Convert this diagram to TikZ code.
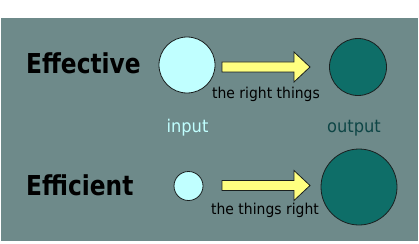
\documentclass[tikz,border=0pt]{standalone}
\usepackage{fontspec}
\setmainfont{DejaVu Sans}[FakeStretch=0.93]
\newfontfamily\headfont{DejaVu Sans}[FakeStretch=0.85]
\usepackage{tikz}
\usetikzlibrary{calc}
\usetikzlibrary{positioning}
\definecolor{sl-back}{HTML}{6E8A8A}
\definecolor{sl-teal}{HTML}{0E6E68}
\definecolor{sl-pale}{HTML}{C0FFFF}
\definecolor{sl-yellow}{HTML}{FFFF80}
\definecolor{sl-dark}{HTML}{0E4646}
\definecolor{sl-line}{HTML}{1A2020}

\begin{document}
\begin{tikzpicture}[x=1pt, y=-1pt,
        incircle/.style={circle, draw=sl-line, line width=0.8pt, fill=sl-pale, inner sep=0pt},
        outcircle/.style={circle, draw=sl-line, line width=0.8pt, fill=sl-teal, inner sep=0pt},
        blockarrow/.style={draw=sl-line, line width=0.8pt, fill=sl-yellow, line join=miter},
        headword/.style={anchor=base west, inner sep=0pt, font=\headfont\bfseries\fontsize{27.4pt}{30pt}\selectfont},
        caption/.style={anchor=base, inner sep=0pt, font=\fontsize{15pt}{17pt}\selectfont}]
        \useasboundingbox (0,0) rectangle (419,243);
        \fill[sl-back] (1,18) rectangle (418,241);
        \node[headword] (effective) at (26,74) {Effective};
        \node[headword] (efficient) at (26,195) {Efficient};
        \node[incircle, minimum size=56pt] (effIn) at (187,65) {};
        \node[outcircle, minimum size=57pt] (effOut) at (358,67) {};
        \node[incircle, minimum size=29pt] (effcIn) at (188.5,186) {};
        \node[outcircle, minimum size=76pt] (effcOut) at (359,187) {};
        \coordinate (effArrow) at (222,67);
        \draw[blockarrow] (effArrow) ++(0,-5) -- ++(72,0) -- ++(0,-10) -- ++(16,15) -- ++(-16,15) -- ++(0,-10) -- ++(-72,0) -- cycle;
        \coordinate (effcArrow) at (222,185.5);
        \draw[blockarrow] (effcArrow) ++(0,-5) -- ++(72,0) -- ++(0,-10) -- ++(16,15) -- ++(-16,15) -- ++(0,-10) -- ++(-72,0) -- cycle;
        \node[caption] (rightThings) at (266,98) {the right things};
        \node[caption] (thingsRight) at (265,214) {the things right};
        \node[caption, text=sl-pale, font=\fontsize{17.5pt}{19pt}\selectfont] (inLabel) at (187.5,132) {input};
        \node[caption, text=sl-dark, font=\fontsize{17.5pt}{19pt}\selectfont] (outLabel) at (354,132) {output};
    \end{tikzpicture}
\end{document}
